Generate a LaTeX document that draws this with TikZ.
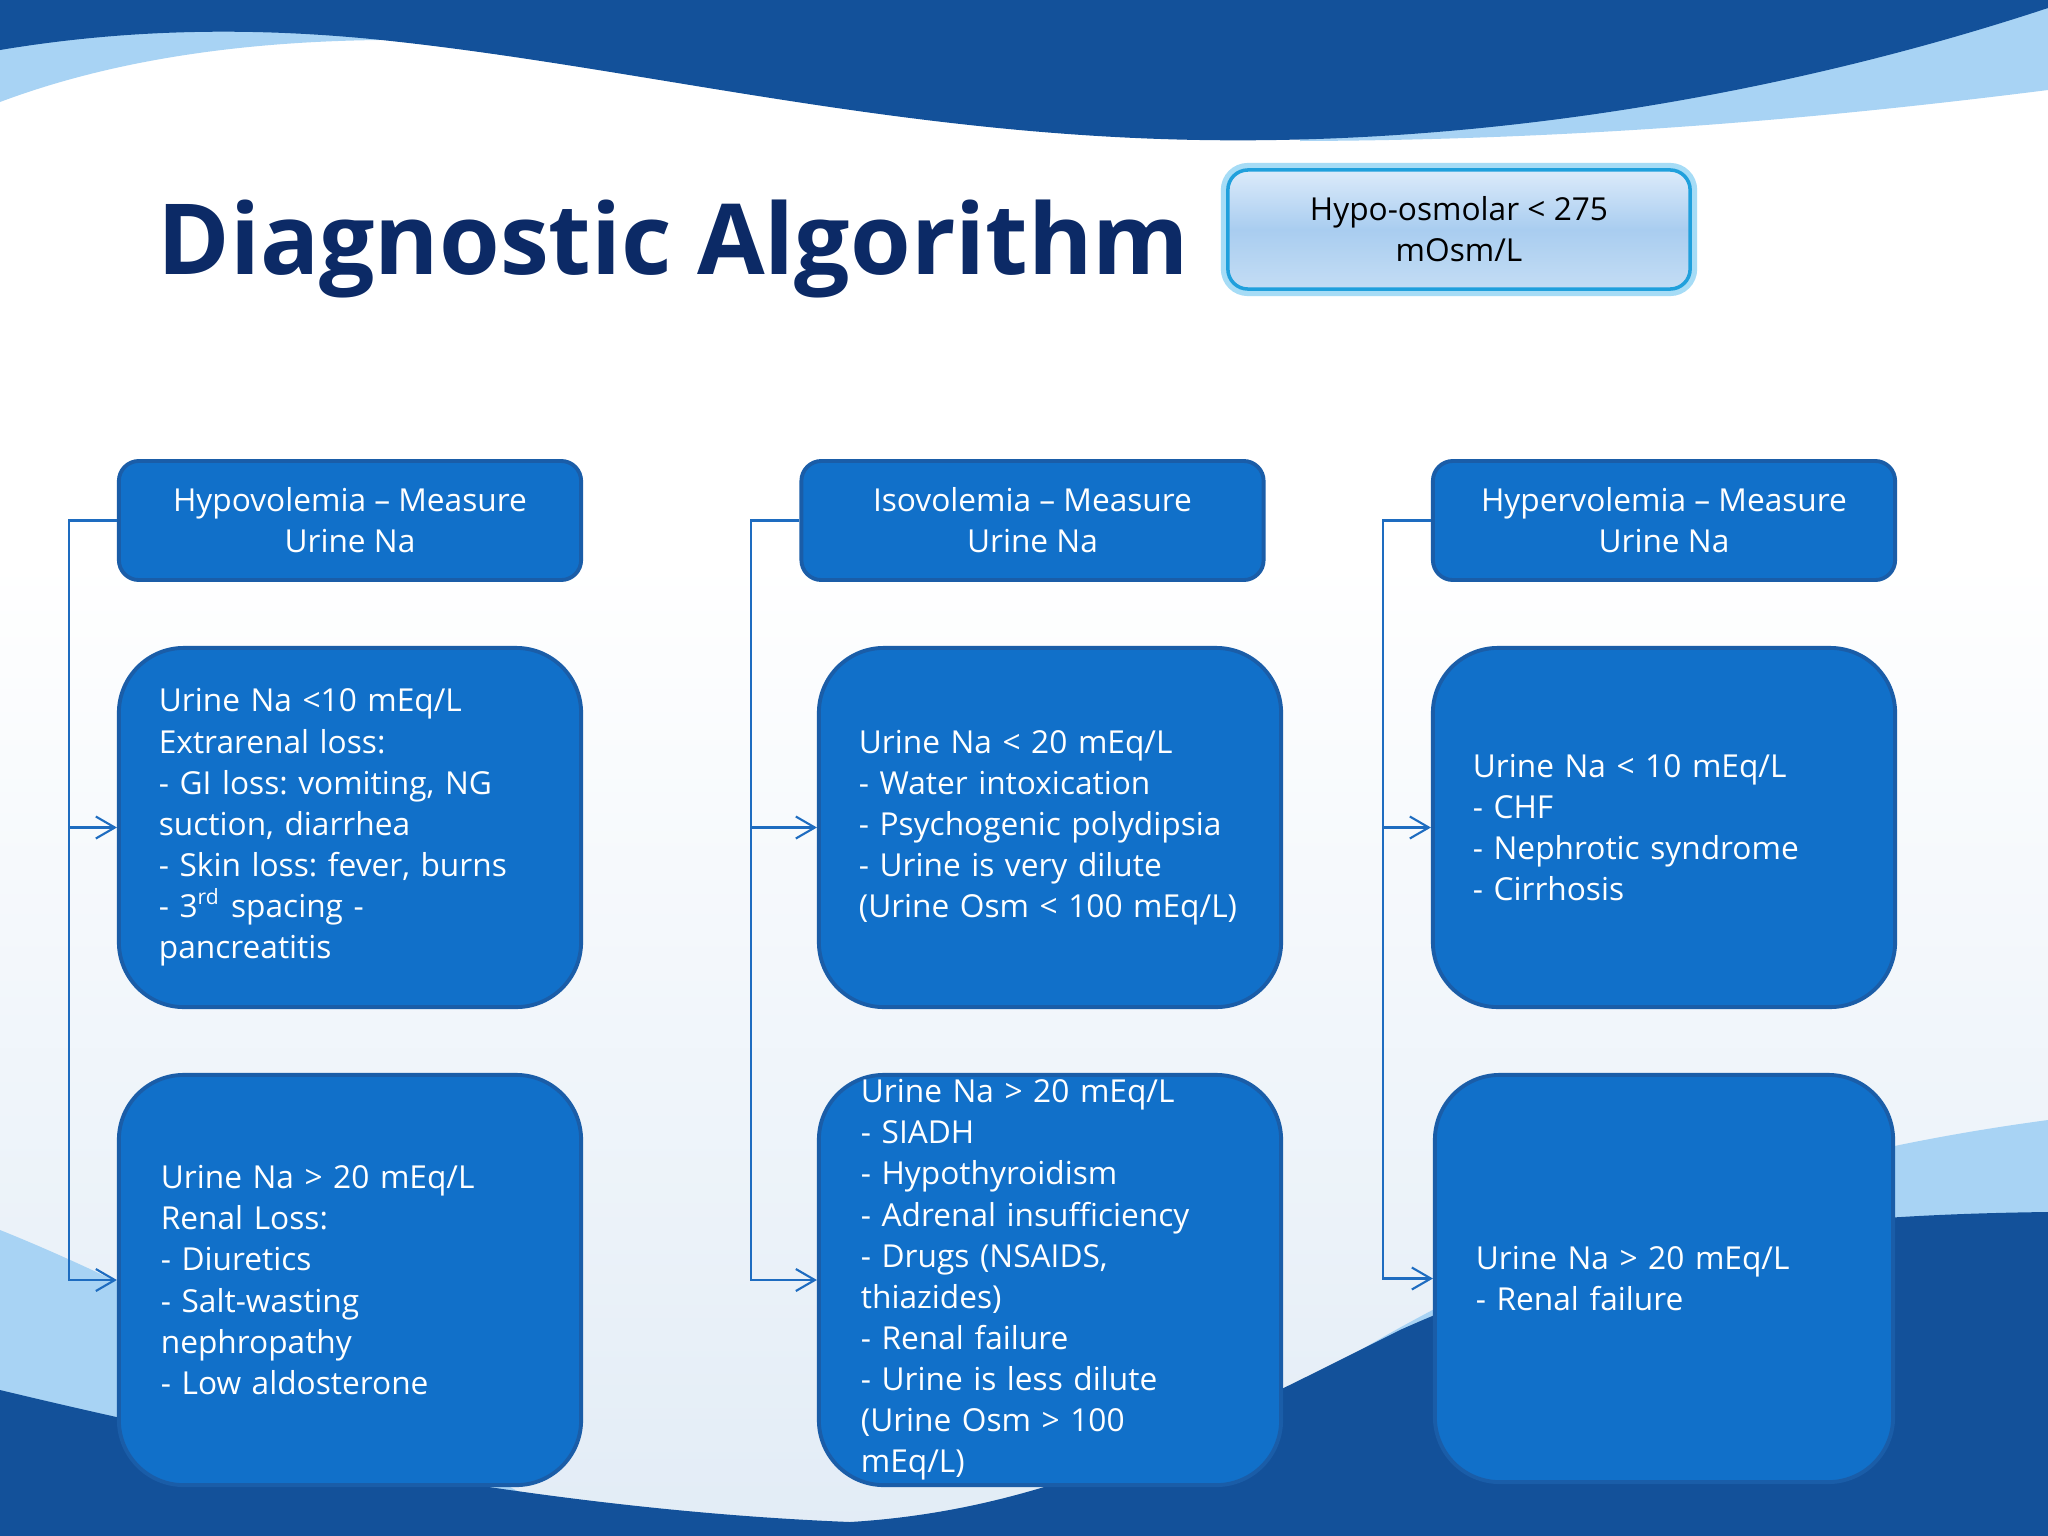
\documentclass[tikz,border=0pt]{standalone}
\usepackage{fontspec}
\setmainfont{Open Sans}
\usetikzlibrary{arrows.meta,positioning}
\frenchspacing
\definecolor{wavedark}{HTML}{13519A}
\definecolor{wavelight}{HTML}{A8D3F4}
\definecolor{mist}{HTML}{E2ECF6}
\definecolor{boxblue}{HTML}{1170C9}
\definecolor{boxedge}{HTML}{1A5DA8}
\definecolor{linkblue}{HTML}{1E6CC0}
\definecolor{titleblue}{HTML}{0C2A66}
\definecolor{osmoedge}{HTML}{20A0DC}
\definecolor{osmoglow}{HTML}{A6DCF6}
\definecolor{osmotop}{HTML}{DCEBFA}
\definecolor{osmomid}{HTML}{A9CDF0}
\definecolor{osmobot}{HTML}{C4DDF4}

\begin{document}
\begin{tikzpicture}[x=0.01cm,y=-0.01cm,
  boxfont/.style={font=\fontsize{9}{11.7}\selectfont},
  head/.style={boxfont,draw=boxedge,fill=boxblue,line width=1.1pt,rounded corners=0.2cm,
    minimum width=4.62cm,minimum height=1.19cm,inner sep=0pt,text=white,align=center},
  card/.style={boxfont,draw=boxedge,fill=boxblue,line width=1.1pt,rounded corners=0.65cm,
    text width=3.82cm,inner xsep=0.4cm,inner ysep=0pt,text=white,align=left},
  link/.style={draw=linkblue,line width=0.6pt},
  tip/.style={link,-{Straight Barb[length=1.9mm,width=2.2mm]}}]
\useasboundingbox (0,0) rectangle (2048,1536);

%% background
\fill[white] (0,0) rectangle (2048,1536);
\shade[top color=white,bottom color=mist] (0,560) rectangle (2048,1536);
\fill[wavelight] (0,0) -- (0,102) .. controls (80,72) and (200,42) .. (380,40) -- (380,0) -- cycle;
\fill[wavelight] (1300,141) .. controls (1600,140) and (1850,115) .. (2048,90) -- (2048,0) -- (1300,0) -- cycle;
\fill[wavedark] (0,0) -- (0,50) .. controls (120,30) and (250,25) .. (400,42)
  .. controls (650,70) and (900,135) .. (1200,140) .. controls (1500,145) and (1800,90) .. (2048,8) -- (2048,0) -- cycle;
\fill[wavelight] (0,1230) .. controls (150,1290) and (350,1400) .. (600,1536) -- (0,1536) -- cycle;
\fill[wavelight] (1250,1420) .. controls (1500,1250) and (1750,1160) .. (2048,1120) -- (2048,1536) -- (1250,1536) -- cycle;
\fill[wavedark] (0,1390) .. controls (250,1450) and (550,1510) .. (850,1522)
  .. controls (1050,1510) and (1200,1430) .. (1400,1330) .. controls (1600,1240) and (1800,1215) .. (2048,1212)
  -- (2048,1536) -- (0,1536) -- cycle;

%% title and top box
\node[anchor=base west,inner sep=0pt,text=titleblue,font=\fontsize{27.9}{34}\selectfont\bfseries] (title) at (157,274) {Diagnostic Algorithm};
\node[boxfont,align=center,minimum width=4.62cm,minimum height=1.19cm,inner sep=0pt,rounded corners=0.2cm,
  draw=osmoedge,line width=1pt,top color=osmotop,bottom color=osmobot,middle color=osmomid,
  preaction={draw=osmoglow,line width=4pt}] (osmol) at (1459,229.5) {Hypo-osmolar {<} 275\\mOsm/L};

%% column heads
\node[head] (hypoHead) at (350,520.5) {Hypovolemia -- Measure\\Urine Na};
\node[head] (isoHead) at (1032.5,520.5) {Isovolemia -- Measure\\Urine Na};
\node[head] (hyperHead) at (1664,520.5) {Hypervolemia -- Measure\\Urine Na};

%% urine Na low
\node[card,minimum height=3.59cm] (hypoLow) at (350,827.5) {Urine Na {<}10 mEq/L\\Extrarenal loss:\\- GI loss: vomiting, NG\\suction, diarrhea\\- Skin loss: fever, burns\\- 3\textsuperscript{rd} spacing -\\pancreatitis};
\node[card,minimum height=3.59cm] (isoLow) at (1050,827.5) {Urine Na {<} 20 mEq/L\\- Water intoxication\\- Psychogenic polydipsia\\- Urine is very dilute\\(Urine Osm {<} 100 mEq/L)};
\node[card,minimum height=3.59cm] (hyperLow) at (1664,827.5) {Urine Na {<} 10 mEq/L\\- CHF\\- Nephrotic syndrome\\- Cirrhosis};

%% urine Na high
\node[card,minimum height=4.10cm,inner xsep=0.42cm,text width=3.78cm] (hypoHigh) at (350,1280) {Urine Na {>} 20 mEq/L\\Renal Loss:\\- Diuretics\\- Salt-wasting\\nephropathy\\- Low aldosterone};
\node[card,minimum height=4.10cm,inner xsep=0.42cm,text width=3.78cm] (isoHigh) at (1050,1280) {Urine Na {>} 20 mEq/L\\- SIADH\\- Hypothyroidism\\- Adrenal insufficiency\\- Drugs (NSAIDS,\\thiazides)\\- Renal failure\\- Urine is less dilute\\(Urine Osm {>} 100\\mEq/L)};
\node[card,minimum height=4.07cm,inner xsep=0.41cm,text width=3.76cm] (hyperHigh) at (1664,1278.5) {Urine Na {>} 20 mEq/L\\- Renal failure};

%% connectors
\coordinate (hypoSpine) at (69,520.5);
\coordinate (isoSpine) at (751,520.5);
\coordinate (hyperSpine) at (1383,520.5);
\draw[tip] (hypoHead.west) -- (hypoSpine) |- (hypoHigh.west);
\draw[tip] (hypoSpine |- hypoLow.west) -- (hypoLow.west);
\draw[tip] (isoHead.west) -- (isoSpine) |- (isoHigh.west);
\draw[tip] (isoSpine |- isoLow.west) -- (isoLow.west);
\draw[tip] (hyperHead.west) -- (hyperSpine) |- (hyperHigh.west);
\draw[tip] (hyperSpine |- hyperLow.west) -- (hyperLow.west);

\end{tikzpicture}
\end{document}
